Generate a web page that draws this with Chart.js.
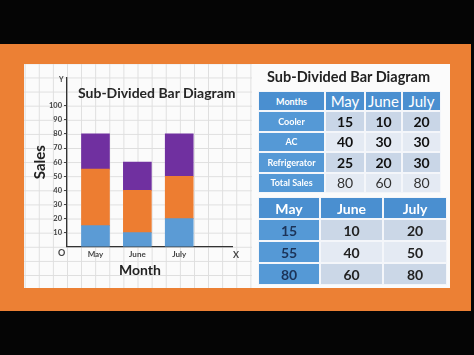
<!DOCTYPE html>
<html><head><meta charset="utf-8">
<script src="https://cdn.jsdelivr.net/npm/chart.js@4.4.0/dist/chart.umd.min.js"></script>
<style>
html,body{margin:0;padding:0;background:#050505;width:474px;height:355px;overflow:hidden;font-family:Lato,'Open Sans',sans-serif;}
#frame{position:absolute;left:0;top:44px;width:471px;height:267px;background:#ec8034;}
#panel{position:absolute;left:24px;top:64px;width:426px;height:224px;background:#fbfbfb;}
#paper{position:absolute;left:24px;top:64px;width:228px;height:224px;
 background-image:linear-gradient(to right,#dedede 1px,transparent 1px),linear-gradient(to bottom,#dedede 1px,transparent 1px);
 background-size:14.11px 14.11px;background-position:0.67px 13.48px;}
#cwrap{position:absolute;left:24px;top:64px;width:226px;height:224px;}
.lbl{position:absolute;white-space:nowrap;font-weight:bold;color:#2a2a2a;}
table{position:absolute;border-collapse:separate;border-spacing:0;table-layout:fixed;}
td,th{border:1px solid #f4f6fa;padding:0;text-align:center;vertical-align:middle;overflow:hidden;white-space:nowrap;}
#t1{left:258px;top:91px;width:183px;height:102px;}
#t2{left:258px;top:197px;width:189px;height:88px;}
</style></head>
<body>
<div id="frame"></div>
<div id="panel"></div>
<div id="paper"></div>
<div id="cwrap"><canvas id="c" width="226" height="224"></canvas></div>
<div class="lbl" id="ctitle" style="left:78px;top:85px;font-size:14px;line-height:16px;color:#262626;">Sub-Divided Bar Diagram</div>
<div class="lbl" style="left:59px;top:75px;font-size:7px;line-height:8px;color:#444;">Y</div>
<div class="lbl" style="left:58px;top:248px;font-size:9px;line-height:10px;color:#444;">O</div>
<div class="lbl" style="left:233px;top:250px;font-size:9px;line-height:10px;color:#444;">X</div>
<div class="lbl" style="left:110px;width:60px;text-align:center;top:262px;font-size:14px;line-height:16px;color:#222;">Month</div>
<div class="lbl" style="left:267px;top:69px;font-size:14.5px;line-height:16px;color:#222;">Sub-Divided Bar Diagram</div>
<table id="t1"></table>
<table id="t2"></table>
<script>
const months = ['May', 'June', 'July'];
const items = ['Cooler', 'AC', 'Refrigerator'];
const cooler = [15, 10, 20];
const ac = [40, 30, 30];
const refrigerator = [25, 20, 30];
const yTickMax = 100;
const colors = ['#5b9bd5', '#ed7d31', '#7030a0'];

const series = [cooler, ac, refrigerator];
const totals = months.map((m, i) => series.reduce((s, arr) => s + arr[i], 0));

// Table 1
const t1 = document.getElementById('t1');
const c1 = [67, 40, 37, 39];
let h = '<colgroup>' + c1.map(w => '<col style="width:' + w + 'px">').join('') + '</colgroup>';
h += '<tr style="height:20px"><th style="background:#4a8fd0;color:#fff;font-size:9px;">Months</th>' +
  months.map(m => '<th style="background:#4a8fd0;color:#fff;font-size:15px;font-weight:normal;">' + m + '</th>').join('') + '</tr>';
const rowBg = ['#c9d6e7', '#e4eaf3', '#c9d6e7', '#e4eaf3'];
items.forEach((it, r) => {
  h += '<tr style="height:20.5px"><td style="background:#5599d6;color:#fff;font-weight:bold;font-size:9px;">' + it + '</td>' +
    series[r].map(v => '<td style="background:' + rowBg[r] + ';color:#111;font-weight:bold;font-size:14px;">' + v + '</td>').join('') + '</tr>';
});
h += '<tr style="height:20.5px"><td style="background:#5599d6;color:#fff;font-weight:bold;font-size:9px;">Total Sales</td>' +
  totals.map(v => '<td style="background:' + rowBg[3] + ';color:#333;font-size:14px;">' + v + '</td>').join('') + '</tr>';
t1.innerHTML = h;

// Table 2 (cumulative)
const t2 = document.getElementById('t2');
const c2 = [62, 63, 64];
let h2 = '<colgroup>' + c2.map(w => '<col style="width:' + w + 'px">').join('') + '</colgroup>';
h2 += '<tr style="height:22px">' + months.map(m => '<th style="background:#4a8fd0;color:#fff;font-size:14px;">' + m + '</th>').join('') + '</tr>';
const bg2 = ['#cbd7e7', '#e4eaf3', '#cbd7e7'];
const cum = series.map((arr, r) => months.map((m, i) => series.slice(0, r + 1).reduce((s, a) => s + a[i], 0)));
cum.forEach((row, r) => {
  h2 += '<tr style="height:22px">' + row.map((v, i) => i === 0
    ? '<td style="background:#5599d6;color:#1c3358;font-weight:bold;font-size:14px;">' + v + '</td>'
    : '<td style="background:' + bg2[r] + ';color:#222;font-weight:bold;font-size:14px;">' + v + '</td>').join('') + '</tr>';
});
t2.innerHTML = h2;

// Chart
Chart.defaults.font.family = "Lato, 'Open Sans', sans-serif";
new Chart(document.getElementById('c'), {
  type: 'bar',
  data: {
    datasets: items.map((it, k) => ({
      label: it,
      data: series[k].map((v, i) => ({ x: i, y: v })),
      backgroundColor: colors[k],
      borderWidth: 0,
      barThickness: 28
    }))
  },
  options: {
    responsive: false,
    devicePixelRatio: 1,
    animation: false,
    layout: { padding: { left: 0, top: 13.5, right: 18, bottom: 21.2 } },
    plugins: { legend: { display: false }, tooltip: { enabled: false } },
    scales: {
      x: {
        type: 'linear', stacked: true, min: -0.68, max: 3.26, offset: false,
        afterFit: s => { s.height = 20; },
        ticks: { stepSize: 1, includeBounds: false, autoSkip: false, maxRotation: 0, padding: 3, color: '#444',
          font: { size: 8, weight: 'bold' },
          callback: v => (months[v] !== undefined ? months[v] : '') },
        grid: { display: false, drawTicks: false, tickLength: 0 },
        border: { color: '#333', width: 1.3 }
      },
      y: {
        type: 'linear', stacked: true, min: 0, max: 120,
        afterFit: s => { s.width = 43; },
        ticks: { stepSize: 10, padding: 2, color: '#444', font: { size: 7.5, weight: 'bold' },
          callback: v => (v > 0 && v <= yTickMax ? String(v) : '') },
        grid: { drawOnChartArea: false, tickLength: 3, lineWidth: 1,
          color: c => (c.tick && c.tick.value > 0 && c.tick.value <= yTickMax) ? '#444' : 'rgba(0,0,0,0)' },
        border: { color: '#333', width: 1.3 },
        title: { display: true, text: 'Sales', color: '#222', font: { size: 15, weight: 'bold' }, padding: { top: 7, bottom: 0 } }
      }
    }
  }
});
</script>
</body></html>
